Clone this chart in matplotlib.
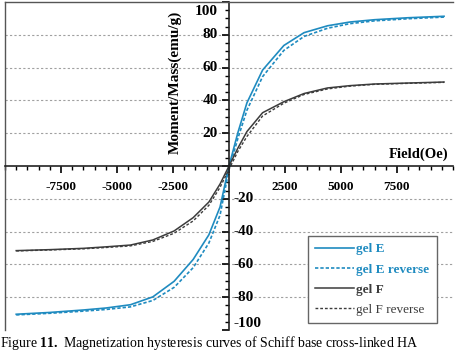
# Magnetization hysteresis curves of gel E and gel F

import matplotlib
matplotlib.use("Agg")
import matplotlib.pyplot as plt
from matplotlib.ticker import FixedLocator, MultipleLocator, NullFormatter

plt.rcParams['font.family'] = ['Liberation Serif', 'DejaVu Serif']
plt.rcParams['axes.unicode_minus'] = False
plt.rcParams['mathtext.fontset'] = 'custom'
plt.rcParams['mathtext.rm'] = 'Liberation Serif'
plt.rcParams['mathtext.bf'] = 'Liberation Serif:bold'

# -----------------------------------------------------------------------------
# Data

field = [-9500, -8000, -6500, -5500, -4400, -3400, -2450, -1600, -900, -400, 0,
         400, 800, 1500, 2450, 3350, 4400, 5400, 6500, 8000, 9600]

gel_e = [-90.4, -89.3, -87.8, -86.6, -84.6, -79.8, -70.3, -57.0, -42.0, -25.0, 0.0,
         20.5, 38.5, 58.5, 73.5, 81.3, 85.5, 87.8, 89.2, 90.4, 91.3]
gel_e_rev = [-90.8, -89.8, -88.5, -87.5, -85.9, -82.0, -74.0, -62.0, -47.0, -30.0, -2.0,
             17.0, 34.0, 54.5, 70.5, 79.0, 84.0, 86.8, 88.5, 89.8, 90.8]
gel_f = [-51.6, -51.0, -50.2, -49.3, -48.2, -45.1, -39.6, -31.5, -22.0, -11.0, 0.0,
         11.0, 21.0, 32.5, 39.2, 44.2, 47.6, 49.0, 50.0, 50.6, 51.2]
gel_f_rev = [-51.8, -51.2, -50.5, -49.7, -48.7, -46.0, -41.0, -33.5, -24.0, -13.0, -2.0,
             9.0, 18.0, 30.5, 38.3, 43.6, 47.0, 48.7, 49.8, 50.4, 51.0]

x_ticks = [-7500, -5000, -2500, 0, 2500, 5000, 7500]
x_tick_labels = ["-7500", "-5000", "-2500", "", "2500", "5000", "7500"]
y_pos_labels = [20, 40, 60, 80, 100]
y_neg_labels = [-20, -40, -60, -80, -100]
grid_levels = [-80, -60, -40, -20, 20, 40, 60, 80]

blue = '#1f8bc0'
grey = '#3c3c3c'

# -----------------------------------------------------------------------------
# Plot

fig = plt.figure(figsize=(4.74, 3.52), dpi=100)
ax = fig.add_axes([5/474, 1-330/352, 448/474, 328/352])
ax.set_xlim(-10000, 10000)
ax.set_ylim(-100, 100)

# frame: top line + left border, axes crossing at zero
ax.spines['left'].set_position(('data', 0))
ax.spines['bottom'].set_position(('data', 0))
ax.spines['right'].set_position(('axes', 0))
for s in ['left', 'bottom']:
    ax.spines[s].set_linewidth(1.2)
    ax.spines[s].set_color('#222222')
for s in ['top', 'right']:
    ax.spines[s].set_linewidth(1.0)
    ax.spines[s].set_color('#555555')
ax.xaxis.set_ticks_position('bottom')
ax.yaxis.set_ticks_position('left')

ax.xaxis.set_major_locator(FixedLocator(x_ticks))
ax.set_xticklabels(x_tick_labels, fontsize=9.5, fontweight='bold')
ax.xaxis.set_minor_locator(MultipleLocator(500))
ax.yaxis.set_major_locator(MultipleLocator(20))
ax.yaxis.set_minor_locator(MultipleLocator(5))
ax.yaxis.set_major_formatter(NullFormatter())
ax.tick_params(axis='x', which='major', direction='out', length=5, width=1.2, pad=6)
ax.tick_params(axis='x', which='minor', direction='out', length=3, width=1.0)
ax.tick_params(axis='y', which='major', direction='out', length=5, width=1.2)
ax.tick_params(axis='y', which='minor', direction='out', length=3, width=1.0)

# y labels: positive on the left of the axis, negative on the right
for v in y_pos_labels:
    dy = -7 if v == 100 else 0
    ax.annotate(str(v), xy=(0, v), xytext=(-8, dy), textcoords='offset points',
                ha='right', va='center', fontsize=11, fontweight='bold')
for v in y_neg_labels:
    dy = 5 if v == -100 else 0
    ax.annotate(str(v), xy=(0, v), xytext=(3, dy), textcoords='offset points',
                ha='left', va='center', fontsize=11, fontweight='bold')

ax.hlines(grid_levels, -10000, 10000, colors='#a0a0a0', linestyles=(0, (2, 2)),
          linewidth=0.8, zorder=0)

ax.plot(field, gel_e, color=blue, lw=1.2, label='gel E')
ax.plot(field, gel_e_rev, color=blue, lw=1.2, dashes=(2, 1.2), label='gel E reverse')
ax.plot(field, gel_f, color=grey, lw=1.1, label='gel F')
ax.plot(field, gel_f_rev, color=grey, lw=1.0, dashes=(2, 1.4), label='gel F reverse')

ax.text(0.379, 0.755, 'Moment/Mass(emu/g)', transform=ax.transAxes, rotation=90,
        ha='center', va='center', fontsize=11, fontweight='bold')
ax.text(0.989, 0.537, 'Field(Oe)', transform=ax.transAxes,
        ha='right', va='center', fontsize=10.5, fontweight='bold')

leg = ax.legend(loc='upper left', bbox_to_anchor=(308/474, 1-236/352),
                bbox_transform=fig.transFigure, borderaxespad=0, fontsize=9.5,
                handlelength=2.9, handletextpad=0.2, labelspacing=0.6,
                borderpad=0.55, fancybox=False, framealpha=1)
leg.get_frame().set_edgecolor('#666666')
leg.get_frame().set_linewidth(1.0)
text_colors = [blue, blue, grey, grey]
for i, t in enumerate(leg.get_texts()):
    t.set_color(text_colors[i])
    t.set_fontweight('bold' if i < 3 else 'normal')

fig.text(0.0, 5/352, r'Figure $\mathbf{11.}$ Magnetization hysteresis curves of Schiff base cross-linked HA',
         ha='left', va='baseline', fontsize=10)

fig.savefig('out.png', dpi=100)
